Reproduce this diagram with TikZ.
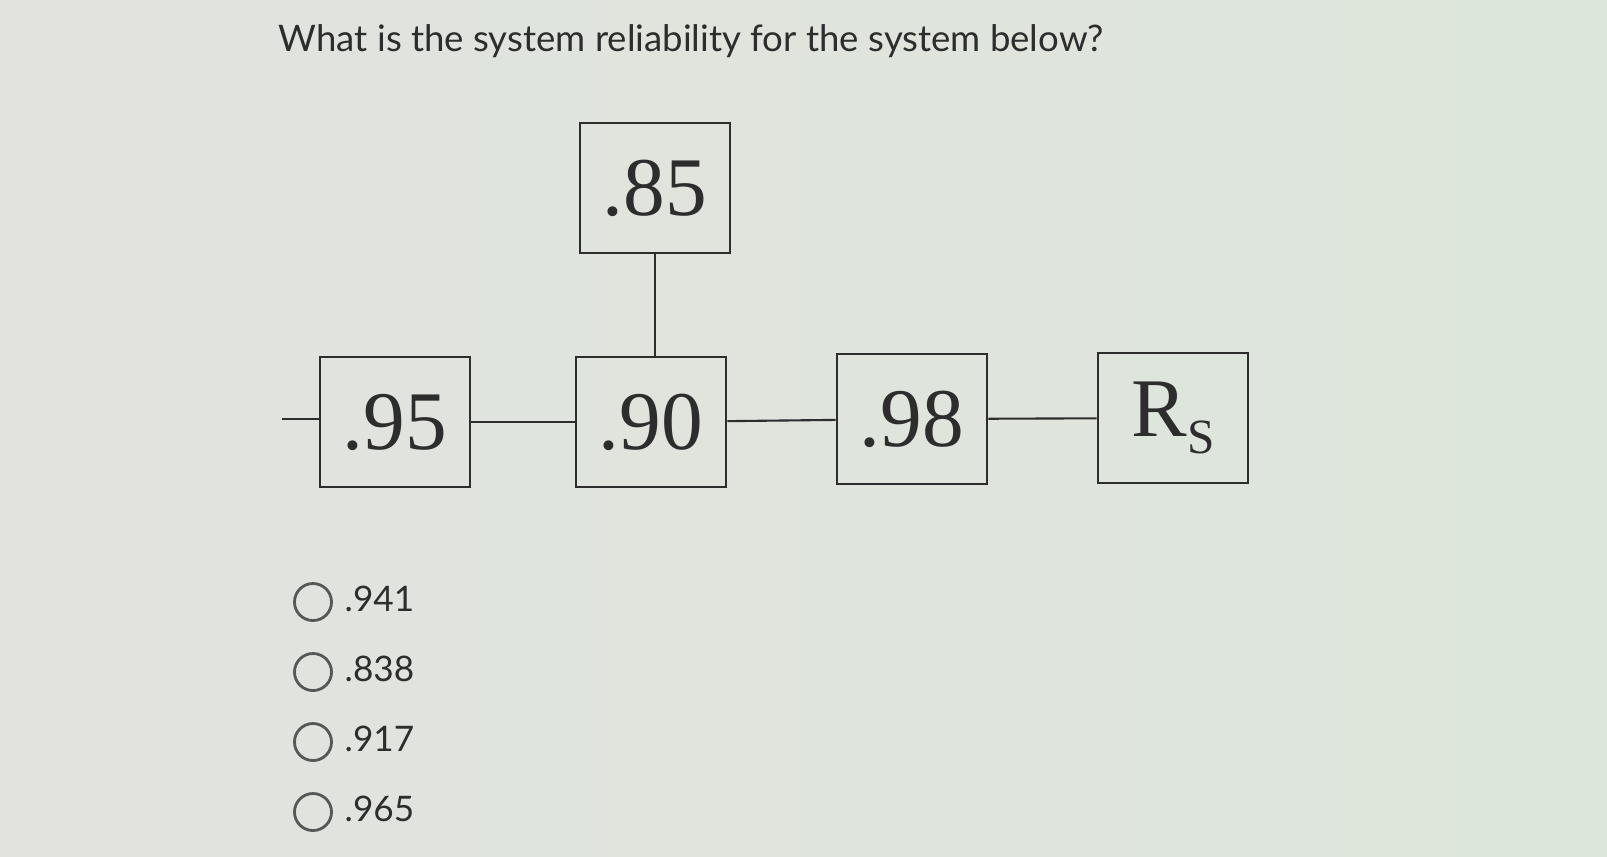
\documentclass[tikz,border=0pt]{standalone}
\usepackage{fontspec}
\setmainfont{Liberation Serif}
\newfontfamily\lato{Lato}
\usetikzlibrary{calc}
\definecolor{paper}{RGB}{226,227,223}
\definecolor{paperg}{RGB}{221,230,219}
\definecolor{ink}{RGB}{45,45,45}
\tikzset{
	blk/.style={draw=ink, line width=0.8pt, minimum width=1.5cm, minimum height=1.3cm, inner sep=0pt, text=ink, font=\fontsize{23.7}{24}\selectfont},
	wire/.style={draw=ink, line width=0.6pt},
	radio/.style={draw=ink!80, line width=0.8pt, circle, minimum size=0.37cm, inner sep=0pt},
	opt/.style={anchor=base west, inner sep=0pt, text=ink, font=\lato\fontsize{10}{11}\selectfont}
}
\begin{document}
\begin{tikzpicture}[x=0.01cm, y=-0.01cm]
		%%%%% START %%%%%
		
		\useasboundingbox (0, 0) rectangle (1607, 856);
		\shade[left color=paper, right color=paperg] (0, 0) rectangle (1607, 856);
		
		\node[anchor=base west, inner sep=0pt, text=ink, font=\lato\fontsize{10.4}{12}\selectfont] (title) at (278, 51) {What is the system reliability for the system below?};
		
		\node[blk] (n85) at (655, 188) {.85};
		\node[blk] (n95) at (395, 422) {.95};
		\node[blk] (n90) at (651, 422) {.90};
		\node[blk] (n98) at (912, 419) {.98};
		\node[blk] (rs) at (1173, 418) {R\raisebox{-5pt}{\fontsize{14}{14}\selectfont S}};
		
		\coordinate (in) at (282, 419);
		\draw[wire] (in) -- (n95.west |- in);
		\draw[wire] (n95) -- (n90);
		\draw[wire] (n90) -- (n98);
		\draw[wire] (n98) -- (rs);
		\draw[wire] (n85.south) -- (n85.south |- n90.north);
		
		\foreach \v [count=\i] in {941, 838, 917, 965} {
			\node[radio] (o\i) at (313, {602 + 70*(\i-1)}) {};
			\node[opt] (t\i) at (344, {611 + 70*(\i-1)}) {.\v};
		}
		
		%%%%% END %%%%%
	\end{tikzpicture}
\end{document}
